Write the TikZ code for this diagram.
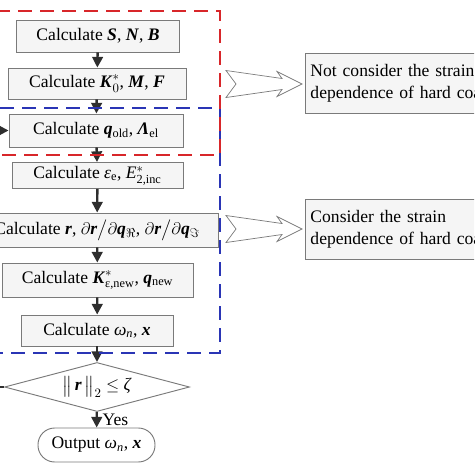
\documentclass[tikz,border=0pt]{standalone}
\usepackage{amsmath,amssymb}
\usepackage{fontspec}
\setmainfont{Liberation Serif}
\usetikzlibrary{arrows.meta,shapes,backgrounds}

\definecolor{boxline}{HTML}{7A7A7A}
\definecolor{boxfill}{HTML}{F5F5F5}
\definecolor{flowarr}{HTML}{2E2E2E}
\definecolor{redbox}{HTML}{D8262A}
\definecolor{bluebox}{HTML}{2A35B5}

\newcommand{\bv}[1]{\textbf{\textit{#1}}}

\begin{document}
\begin{tikzpicture}[x=0.03cm, y=-0.03cm]
	  \useasboundingbox (0,0) rectangle (474,474);
	  \clip (0,0) rectangle (474,474);
	  \tikzstyle{every node} = [font=\fontsize{15}{17}\selectfont, inner sep=0pt]
	  \tikzstyle{calc} = [rectangle, draw=boxline, fill=boxfill, line width=0.8pt]
	  \tikzstyle{note} = [rectangle, draw=boxline, fill=boxfill, line width=0.8pt, anchor=west, text width=8cm, align=left, minimum height=1.8cm, inner xsep=0.15cm, font=\fontsize{15}{18.5}\selectfont]
	  \tikzstyle{flow} = [draw=flowarr, line width=2pt, -{Triangle[length=3.2mm, width=3.2mm]}]
	  \tikzstyle{region} = [line width=1.5pt, dash pattern=on 0.42cm off 0.24cm]
	  \tikzstyle{hollow} = [draw=boxline, fill=white, line width=0.6pt, line join=miter]
	  % main column
	  \node[calc, minimum width=4.89cm, minimum height=0.96cm] (1) at (98, 36) {Calculate \bv{S}, \bv{N}, \bv{B}};
	  \node[calc, minimum width=5.34cm, minimum height=0.93cm] (2) at (97, 83.5) {Calculate \bv{K}$^{*}_{0}$, \bv{M}, \bv{F}};
	  \node[calc, minimum width=5.22cm, minimum height=0.99cm] (3) at (96, 130.5) {Calculate \bv{q}\textsubscript{old}, \bv{Λ}\textsubscript{el}};
	  \node[calc, minimum width=5.13cm, minimum height=0.78cm] (4) at (97.5, 175.5) {Calculate \textit{ε}\textsubscript{e}, \textit{E}$^{*}_{\textrm{2,inc}}$};
	  \node[calc, minimum width=7.26cm, minimum height=1.02cm] (5) at (97, 230) {Calculate \bv{r}, $\partial$\bv{r}$\big/\partial$\bv{q}$_{\Re}$, $\partial$\bv{r}$\big/\partial$\bv{q}$_{\Im}$};
	  \node[calc, minimum width=5.73cm, minimum height=1.02cm] (6) at (97.5, 280) {Calculate \bv{K}$^{*}_{\textrm{ε,new}}$, \bv{q}\textsubscript{new}};
	  \node[calc, minimum width=4.56cm, minimum height=0.93cm] (7) at (97, 330.5) {Calculate \textit{ω}\textsubscript{\textit{n}}, \bv{x}};
	  \node[diamond, aspect=3.8, draw=boxline, fill=white, line width=0.8pt, minimum width=5.55cm, minimum height=1.47cm] (8) at (97, 387) {$\big\|$\,\bv{r}\,$\big\|_2 \le$ \textit{ζ}};
	  \node[rectangle, rounded corners=0.5cm, draw=boxline, fill=white, line width=0.8pt, minimum width=3.51cm, minimum height=1.02cm] (9) at (96.5, 445) {Output \textit{ω}\textsubscript{\textit{n}}, \bv{x}};
	  \coordinate (back) at (-30, 250);
	  % remarks
	  \node[note] (n1) at (305, 83) {Not consider the strain\\dependence of hard coating};
	  \node[note] (n2) at (305, 229) {Consider the strain\\dependence of hard coating};
	  \foreach \yy in {84, 229}
	    \draw[hollow, shift={(0,\yy)}] (226,-13.5) -- (282,-5.5) -- (277,-12.5) -- (302,0) -- (277,12.5) -- (282,5.5) -- (226,13.5) -- (236,0) -- cycle;
	  % connectors
	  \foreach \from/\to in {1/2,2/3,3/4,4/5,5/6,6/7,7/8}
	    \draw[flow] (\from) -- (\to);
	  \draw[flow] (8) -- node[anchor=west, xshift=4pt] {Yes} (9);
	  \draw[flow] (8.west) -| (back) |- (3.west);
	  % dashed regions
	  \draw[region, bluebox] (-30, 108) rectangle (220, 353);
	  \draw[region, redbox] (-30, 11) rectangle (220, 155);
\end{tikzpicture}
\end{document}
